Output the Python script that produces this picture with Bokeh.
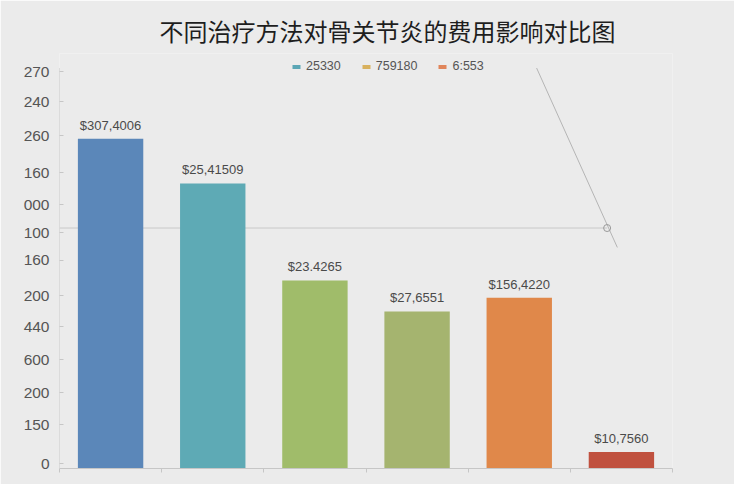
from bokeh.plotting import figure
from bokeh.models import Range1d, FixedTicker, Legend, LegendItem, ColumnDataSource
from bokeh.embed import file_html
from bokeh.resources import INLINE
from bokeh.core.properties import value

# ---- data ----
title_text = "不同治疗方法对骨关节炎的费用影响对比图"
bar_values = [340, 294, 194, 162, 176, 17]
bar_labels = ["$307,4006", "$25,41509", "$23.4265", "$27,6551", "$156,4220", "$10,7560"]
bar_colors = ["#5b87b9", "#5eaab5", "#a0bc6a", "#a5b46f", "#e0884a", "#c0513f"]

y_tick_values = [409, 378, 343, 305, 272, 243, 215, 178, 146, 112, 78, 45, 5]
y_tick_labels = ["270", "240", "260", "160", "000", "100", "160", "200", "440", "600", "200", "150", "0"]
y_axis_top = 413
y_view_top = 428

legend_labels = ["25330", "759180", "6:553"]
legend_colors = ["#5ba6b5", "#d8b15e", "#e0855a"]

ref_line_y = 248
ref_line_x_end = 5.36
diag_x = [4.67, 5.46]
diag_y = [413, 228]

xs = [i + 0.5 for i in range(len(bar_values))]

BG = "#ebebeb"
AX = "#c6c6c6"

p = figure(width=734, height=484, output_backend="svg", toolbar_location=None,
           x_range=Range1d(0, len(bar_values)), y_range=Range1d(0, y_view_top),
           min_border_left=59, min_border_right=62, min_border_top=53, min_border_bottom=16,
           background_fill_color=BG, border_fill_color=BG, outline_line_color=None)

p.title.text = title_text
p.title.text_font = "Noto Sans CJK SC"
p.title.text_font_size = "24px"
p.title.text_font_style = "normal"
p.title.text_color = "#1e1e1e"
p.title.align = "left"
p.title.offset = 100
p.title.standoff = 11

p.xgrid.visible = False
p.ygrid.visible = False

# y axis (line drawn separately so it stops at the top tick area)
p.yaxis.ticker = FixedTicker(ticks=y_tick_values)
p.yaxis.major_label_overrides = {v: l for v, l in zip(y_tick_values, y_tick_labels)}
p.yaxis.major_label_text_font = "Liberation Sans"
p.yaxis.major_label_text_font_size = "15.5px"
p.yaxis.major_label_text_color = "#555555"
p.yaxis.axis_line_color = None
p.yaxis.major_tick_line_color = AX
p.yaxis.major_tick_in = 4
p.yaxis.major_tick_out = 0
p.yaxis.minor_tick_line_color = None
p.yaxis.major_label_standoff = 10
p.segment(x0=[0], y0=[0], x1=[0], y1=[y_axis_top], line_color=AX, line_width=1)

# x axis: boundary ticks only, no labels
p.xaxis.ticker = FixedTicker(ticks=[], minor_ticks=list(range(len(bar_values) + 1)))
p.xaxis.axis_line_color = AX
p.xaxis.major_tick_line_color = None
p.xaxis.minor_tick_line_color = AX
p.xaxis.minor_tick_in = 0
p.xaxis.minor_tick_out = 4

# reference lines
p.line(x=[0, ref_line_x_end], y=[ref_line_y, ref_line_y], line_color="#c8c8c8", line_width=1)
p.line(x=diag_x, y=diag_y, line_color="#b5b5b5", line_width=1)
p.scatter(x=[ref_line_x_end], y=[ref_line_y], size=7, fill_color=None,
          line_color="#999999", line_width=1)

# bars
src = ColumnDataSource(dict(x=xs, top=bar_values, color=bar_colors, label=bar_labels))
p.vbar(x="x", top="top", width=0.64, bottom=0, fill_color="color", line_color=None, source=src)
p.text(x="x", y="top", text="label", source=src, text_align="center", text_baseline="bottom",
       y_offset=-6, text_font=value("Liberation Sans"), text_font_size="13px", text_color="#4a4a4a")

# legend (zero-height bars only serve as legend swatches)
items = []
for lab, col in zip(legend_labels, legend_colors):
    r = p.vbar(x=xs[:1], top=[0], bottom=[0], width=0.5, fill_color=col, line_color=None)
    items.append(LegendItem(label=lab, renderers=[r]))
legend = Legend(items=items, orientation="horizontal", location=(232, 395),
                background_fill_alpha=0, border_line_color=None,
                label_text_font="Liberation Sans", label_text_font_size="12.5px",
                label_text_color="#555555", glyph_width=10, glyph_height=5,
                label_standoff=5, spacing=20, padding=0, margin=0, label_height=14)
p.add_layout(legend, "center")

open("out.html", "w").write(file_html(p, INLINE))
